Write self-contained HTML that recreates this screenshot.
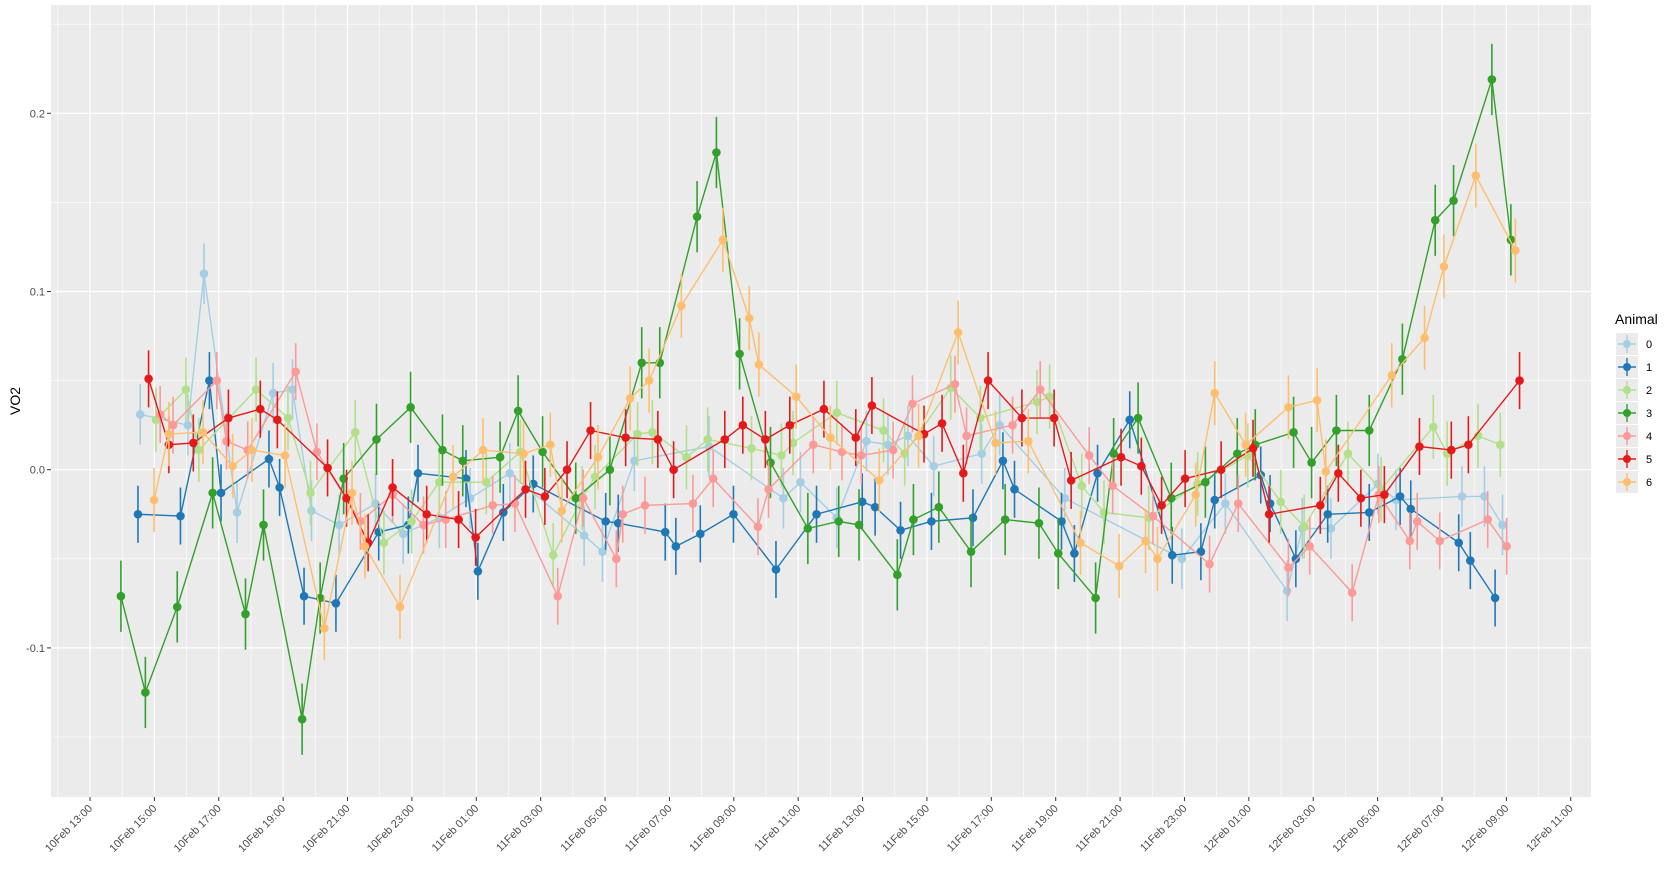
<!DOCTYPE html>
<html><head><meta charset="utf-8"><style>
body{margin:0;background:#fff;font-family:"Liberation Sans",sans-serif}
svg text{font-family:"Liberation Sans",sans-serif}
</style></head><body>
<svg id="c" width="1669" height="880" xmlns="http://www.w3.org/2000/svg"></svg>
<script>
const names=["0","1","2","3","4","5","6"];
const colors=["#A6CEE3","#1F78B4","#B2DF8A","#33A02C","#FB9A99","#E31A1C","#FDBF6F"];
const xTickLabels=["10Feb 13:00","10Feb 15:00","10Feb 17:00","10Feb 19:00","10Feb 21:00","10Feb 23:00","11Feb 01:00","11Feb 03:00","11Feb 05:00","11Feb 07:00","11Feb 09:00","11Feb 11:00","11Feb 13:00","11Feb 15:00","11Feb 17:00","11Feb 19:00","11Feb 21:00","11Feb 23:00","12Feb 01:00","12Feb 03:00","12Feb 05:00","12Feb 07:00","12Feb 09:00","12Feb 11:00"];
const yTicks=[-0.1,0.0,0.1,0.2];
const yTickLabels=["-0.1","0.0","0.1","0.2"];
// hours since 10Feb 13:00
const t0=[1.56,3.04,3.54,4.57,5.69,6.29,6.88,7.74,8.87,9.73,10.85,11.81,13.04,15.35,15.92,16.91,19.23,21.54,22.07,23.20,24.12,24.79,25.41,26.21,27.70,28.26,30.28,33.92,35.27,37.19,37.66,38.55,40.01,40.57,42.62,43.32,43.88];
const v0=[0.031,0.025,0.110,-0.024,0.043,0.045,-0.023,-0.031,-0.019,-0.036,-0.027,-0.016,-0.002,-0.037,-0.046,0.005,0.013,-0.016,-0.007,-0.027,0.016,0.014,0.019,0.002,0.009,0.025,-0.016,-0.050,-0.019,-0.068,-0.033,-0.033,-0.008,-0.017,-0.015,-0.015,-0.031];
const t1=[1.49,2.81,3.71,4.07,5.56,5.89,6.65,7.64,8.97,9.89,10.19,11.68,12.05,12.84,13.77,16.02,16.41,17.87,18.20,18.96,19.99,21.31,22.57,23.99,24.39,25.18,26.14,27.43,28.36,28.72,30.18,30.58,31.30,32.30,33.62,34.51,34.94,36.37,36.66,37.46,38.45,39.74,40.70,41.03,42.52,42.88,43.65];
const v1=[-0.025,-0.026,0.050,-0.013,0.006,-0.010,-0.071,-0.075,-0.035,-0.031,-0.002,-0.005,-0.057,-0.024,-0.008,-0.029,-0.030,-0.035,-0.043,-0.036,-0.025,-0.056,-0.025,-0.018,-0.021,-0.034,-0.029,-0.027,0.005,-0.011,-0.029,-0.047,-0.002,0.028,-0.048,-0.046,-0.017,-0.003,-0.019,-0.050,-0.025,-0.024,-0.015,-0.022,-0.041,-0.051,-0.072];
const t2=[2.05,2.98,3.38,5.16,6.15,6.85,8.24,9.13,9.99,10.85,12.31,13.37,14.39,15.29,15.69,17.01,17.47,18.53,19.19,20.55,21.48,21.84,23.20,24.65,25.31,26.74,27.66,29.42,29.81,30.81,31.50,32.89,34.41,35.97,36.99,37.72,39.08,40.11,41.73,42.16,43.12,43.81];
const v2=[0.028,0.045,0.011,0.045,0.029,-0.013,0.021,-0.041,-0.029,-0.007,-0.007,0.010,-0.048,-0.016,-0.004,0.020,0.021,0.007,0.017,0.012,0.008,0.015,0.032,0.022,0.009,0.046,0.029,0.038,0.041,-0.009,-0.024,-0.027,-0.008,0.008,-0.018,-0.032,0.009,-0.011,0.024,0.009,0.019,0.014];
const t3=[0.96,1.72,2.71,3.81,4.83,5.39,6.59,7.15,7.88,8.90,9.96,10.95,11.58,12.74,13.30,14.06,15.09,16.15,17.14,17.70,18.86,19.46,20.18,21.14,22.30,23.26,23.89,25.08,25.58,26.37,27.37,28.43,29.48,30.08,31.24,31.80,32.56,33.59,34.65,35.64,36.20,37.39,37.95,38.72,39.74,40.77,41.79,42.36,43.55,44.14];
const v3=[-0.071,-0.125,-0.077,-0.013,-0.081,-0.031,-0.140,-0.072,-0.005,0.017,0.035,0.011,0.005,0.007,0.033,0.010,-0.016,0.000,0.060,0.060,0.142,0.178,0.065,0.004,-0.033,-0.029,-0.031,-0.059,-0.028,-0.021,-0.046,-0.028,-0.030,-0.047,-0.072,0.009,0.029,-0.016,-0.007,0.009,0.014,0.021,0.004,0.022,0.022,0.062,0.140,0.151,0.219,0.129];
const t4=[2.18,2.58,3.94,4.24,4.90,6.39,7.05,8.40,9.40,10.36,11.05,12.51,13.20,14.53,15.32,16.35,16.55,17.24,18.73,19.36,20.75,21.08,22.47,23.36,23.96,24.95,25.55,26.87,27.23,28.66,29.52,31.04,31.77,33.02,34.78,35.67,37.23,37.89,39.21,40.04,41.00,41.23,41.93,43.42,44.01];
const v4=[0.031,0.025,0.050,0.016,0.011,0.055,0.010,-0.029,-0.014,-0.031,-0.028,-0.020,-0.019,-0.071,-0.016,-0.050,-0.025,-0.020,-0.019,-0.005,-0.032,-0.011,0.014,0.010,0.008,0.011,0.037,0.048,0.019,0.025,0.045,0.008,-0.009,-0.026,-0.053,-0.019,-0.055,-0.043,-0.069,-0.014,-0.040,-0.029,-0.040,-0.028,-0.043];
const t5=[1.82,2.45,3.21,4.30,5.29,5.82,7.38,7.97,8.64,9.40,10.46,11.45,11.98,13.53,14.13,14.82,15.55,16.64,17.64,18.13,19.72,20.28,20.98,21.74,22.80,23.79,24.29,25.91,26.47,27.13,27.90,28.95,29.95,30.48,32.03,32.66,33.29,34.02,35.14,36.13,36.63,38.22,38.78,39.48,40.21,41.30,42.29,42.82,44.41];
const v5=[0.051,0.014,0.015,0.029,0.034,0.028,0.001,-0.016,-0.041,-0.010,-0.025,-0.028,-0.038,-0.011,-0.015,0.000,0.022,0.018,0.017,0.000,0.017,0.025,0.017,0.025,0.034,0.018,0.036,0.020,0.026,-0.002,0.050,0.029,0.029,-0.006,0.007,0.002,-0.020,-0.005,0.000,0.012,-0.025,-0.020,-0.002,-0.016,-0.014,0.013,0.011,0.014,0.050];
const t6=[1.99,2.45,3.51,4.43,5.03,6.06,7.28,8.14,8.54,9.63,11.28,12.21,13.47,14.30,14.66,15.78,16.78,17.37,18.37,19.66,20.48,20.78,21.94,23.00,24.52,25.74,26.97,28.13,29.15,30.77,31.97,32.79,33.16,34.35,34.94,35.90,37.23,38.12,38.39,40.44,41.46,42.06,43.05,44.28];
const v6=[-0.017,0.020,0.021,0.002,0.011,0.008,-0.089,-0.013,-0.043,-0.077,-0.004,0.011,0.009,0.014,-0.023,0.007,0.040,0.050,0.092,0.129,0.085,0.059,0.041,0.018,-0.006,0.019,0.077,0.015,0.016,-0.041,-0.054,-0.040,-0.050,-0.014,0.043,0.014,0.035,0.039,-0.001,0.053,0.074,0.114,0.165,0.123];
const errs=[0.017,0.016,0.018,0.02,0.016,0.016,0.018];
const T=[t0,t1,t2,t3,t4,t5,t6], V=[v0,v1,v2,v3,v4,v5,v6];

const NS="http://www.w3.org/2000/svg";
const svg=document.getElementById('c');
const PL=51,PR=1591,PT=5,PB=797;
const x=h=>90+h*32.19;
const y=v=>469.7-v*1782;
function mk(tag,attrs,parent){const e=document.createElementNS(NS,tag);for(const k in attrs)e.setAttribute(k,attrs[k]);(parent||svg).appendChild(e);return e;}

const bg=mk('rect',{x:PL,y:PT,width:PR-PL,height:PB-PT,fill:'#EBEBEB'});


for(let v=-0.15;v<=0.26;v+=0.1){const l=mk('line',{x1:PL,x2:PR,y1:y(v),y2:y(v),stroke:'#fff','stroke-width':0.6});}
for(let h=-1;h<=47;h+=2){const l=mk('line',{x1:x(h),x2:x(h),y1:PT,y2:PB,stroke:'#fff','stroke-width':0.6});}
yTicks.forEach((v,i)=>{
  const l=mk('line',{x1:PL,x2:PR,y1:y(v),y2:y(v),stroke:'#fff','stroke-width':1.2});
  
  
  mk('line',{x1:PL-4,x2:PL,y1:y(v),y2:y(v),stroke:'#333','stroke-width':1});
  const t=mk('text',{x:PL-6,y:y(v)+4,'text-anchor':'end','font-size':11,fill:'#4D4D4D'});t.textContent=yTickLabels[i];
  
  
});
xTickLabels.forEach((s,i)=>{
  const xx=x(i*2);
  const l=mk('line',{x1:xx,x2:xx,y1:PT,y2:PB,stroke:'#fff','stroke-width':1.2});
  
  
  mk('line',{x1:xx,x2:xx,y1:PB,y2:PB+4,stroke:'#333','stroke-width':1});
  const t=mk('text',{x:xx+3,y:PB+12,'text-anchor':'end','font-size':11,fill:'#4D4D4D',transform:`rotate(-45 ${xx+3} ${PB+12})`});t.textContent=s;
  
  
});
const yt=mk('text',{x:20,y:(PT+PB)/2,'text-anchor':'middle','font-size':14,fill:'#000',transform:`rotate(-90 20 ${(PT+PB)/2})`});yt.textContent='VO2';



T.forEach((ts,s)=>{
  const g=mk('g',{});
  
  
  const c=colors[s];
  mk('polyline',{points:ts.map((h,i)=>x(h)+','+y(V[s][i])).join(' '),fill:'none',stroke:c,'stroke-width':1.4},g);
  ts.forEach((h,i)=>{
    const v=V[s][i];
    const e=mk('line',{x1:x(h),x2:x(h),y1:y(v+errs[s]),y2:y(v-errs[s]),stroke:c,'stroke-width':1.6},g);
    
    
    const p=mk('circle',{cx:x(h),cy:y(v),r:4.3,fill:c},g);
    
    
  });
});

const lt=mk('text',{x:1615,y:324,'font-size':14,fill:'#000'});lt.textContent='Animal';


names.forEach((n,i)=>{
  const cy=344+i*23;
  const g=mk('g',{});
  
  
  mk('rect',{x:1616,y:cy-11,width:22,height:22,fill:'#EBEBEB'},g);
  mk('line',{x1:1618,x2:1636,y1:cy,y2:cy,stroke:colors[i],'stroke-width':1.4},g);
  mk('line',{x1:1627,x2:1627,y1:cy-9,y2:cy+9,stroke:colors[i],'stroke-width':1.4},g);
  mk('circle',{cx:1627,cy:cy,r:4,fill:colors[i]},g);
  const t=mk('text',{x:1646,y:cy+4,'font-size':11,fill:'#000'},g);t.textContent=n;
});
</script>
</body></html>
